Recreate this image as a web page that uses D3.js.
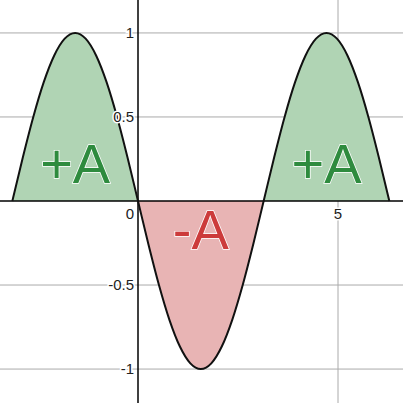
<!DOCTYPE html><html><head><script src="https://d3js.org/d3.v7.min.js"></script>
<style>body{margin:0;background:#fff}</style></head><body><svg id="c" width="403" height="403"></svg>
<script>
const xStepDeg = 15;
const xStartDeg = -180;
const yValues = [0,.259,.5,.707,.866,.966,1,.966,.866,.707,.5,.259,0,
 -.259,-.5,-.707,-.866,-.966,-1,-.966,-.866,-.707,-.5,-.259,0,
 .259,.5,.707,.866,.966,1,.966,.866,.707,.5,.259,0];
const xTicks = [5];
const yTicks = [-1,-0.5,0.5,1];
const regions = [
 {from:0,to:12,color:"#b0d4b4",label:"+A",lc:"#2e8b3e"},
 {from:12,to:24,color:"#e8b4b4",label:"-A",lc:"#cc3b3b"},
 {from:24,to:36,color:"#b0d4b4",label:"+A",lc:"#2e8b3e"}];
const pts = yValues.map((v,i)=>({x:(xStartDeg+i*xStepDeg)*Math.PI/180,y:v}));
const svg=d3.select("#c");
const x=d3.scaleLinear().domain([-3.45,6.625]).range([0,403]);
const y=d3.scaleLinear().domain([-1.202,1.196]).range([403,0]);
const g=svg.append("g");
yTicks.forEach(t=>g.append("line").attr("x1",0).attr("x2",403).attr("y1",y(t)).attr("y2",y(t)).attr("stroke","#aaa").attr("stroke-width",1));
xTicks.forEach(t=>g.append("line").attr("y1",0).attr("y2",403).attr("x1",x(t)).attr("x2",x(t)).attr("stroke","#aaa").attr("stroke-width",1));
const area=d3.area().x(d=>x(d.x)).y0(y(0)).y1(d=>y(d.y)).curve(d3.curveMonotoneX);
regions.forEach(r=>svg.append("path").datum(pts.slice(r.from,r.to+1)).attr("d",area).attr("fill",r.color));
svg.append("line").attr("x1",0).attr("x2",403).attr("y1",y(0)).attr("y2",y(0)).attr("stroke","#000").attr("stroke-width",1.5);
svg.append("line").attr("y1",0).attr("y2",403).attr("x1",x(0)).attr("x2",x(0)).attr("stroke","#000").attr("stroke-width",1.5);
svg.append("path").datum(pts).attr("d",d3.line().x(d=>x(d.x)).y(d=>y(d.y)).curve(d3.curveMonotoneX)).attr("fill","none").attr("stroke","#111").attr("stroke-width",2);
const lab=(t,xx,yy,anchor)=>svg.append("text").attr("x",xx).attr("y",yy).attr("text-anchor",anchor).attr("font-family","Liberation Sans, Arial").attr("font-size",15).attr("fill","#222").attr("stroke","#fff").attr("stroke-width",3).attr("paint-order","stroke").text(t);
yTicks.forEach(t=>lab(String(t),x(0)-4,y(t)+5,"end"));
xTicks.forEach(t=>lab(String(t),x(t),y(0)+18,"middle"));
lab("0",x(0)-4,y(0)+18,"end");
regions.forEach(r=>{const m=pts[(r.from+r.to)/2];
 svg.append("text").attr("x",x(m.x)).attr("y",y(0)+(m.y>0?-18:48)).attr("text-anchor","middle")
 .attr("font-family","Liberation Sans, Arial").attr("font-size",56).attr("fill",r.lc).attr("stroke","#fff").attr("stroke-width",1.5).attr("paint-order","stroke").text(r.label);});
</script></body></html>
